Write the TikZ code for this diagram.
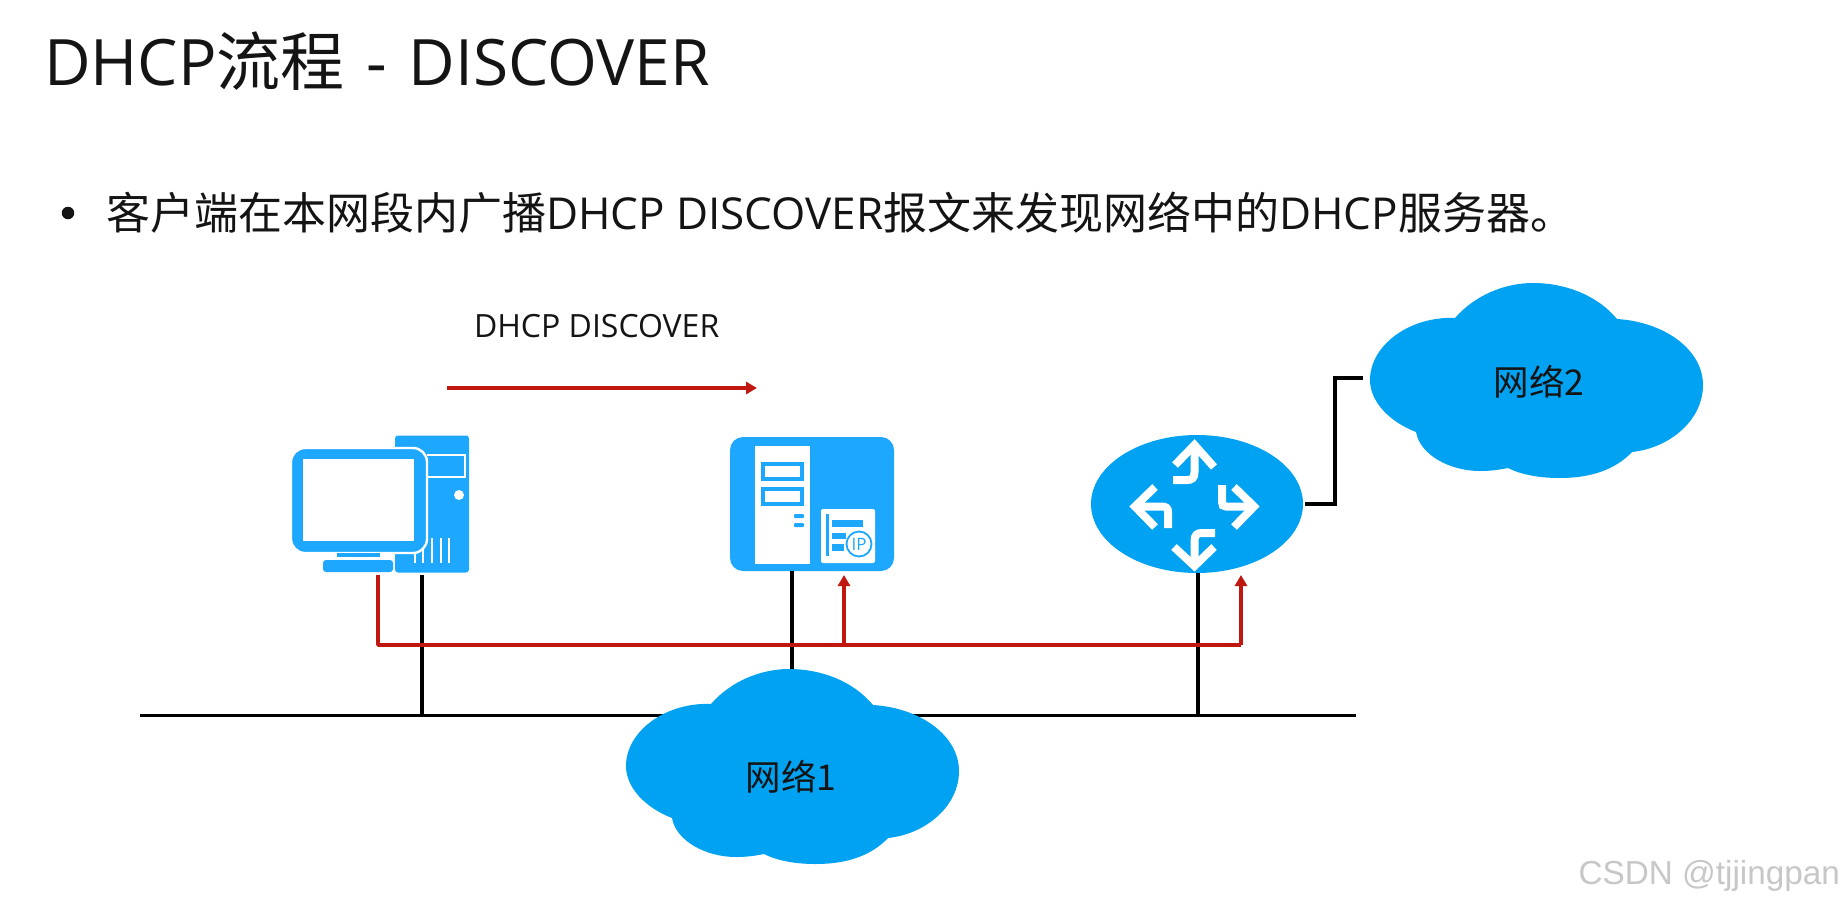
\documentclass[tikz,border=0pt]{standalone}
\usepackage{fontspec}
\setmainfont{Open Sans}
\newfontfamily\cjk{Noto Sans CJK SC}
\newfontfamily\markfont{Liberation Sans}
\usetikzlibrary{shapes.geometric,arrows.meta}
\definecolor{bluea}{HTML}{00A2F1}
\definecolor{blueb}{HTML}{1DA7FF}
\definecolor{redline}{HTML}{C01810}
\definecolor{inkc}{HTML}{141414}
\newcommand{\cn}[1]{{\cjk #1}}
\tikzset{
  txt/.style={inner sep=0pt,outer sep=0pt,text=inkc},
  wire/.style={draw=black,line width=3.8pt},
  redwire/.style={draw=redline,line width=3.6pt},
  redarrow/.style={redwire,-{Triangle[length=11pt,width=12pt]}},
  whitelines/.style={draw=white,line width=8pt,line join=miter},
  cloudshape/.style={fill=bluea},
}
\newcommand{\cloudpath}{
  (1370,380) .. controls (1370,345) and (1410,316) .. (1455,318)
  .. controls (1475,295) and (1505,283) .. (1533,283)
  .. controls (1565,283) and (1597,295) .. (1617,319)
  .. controls (1665,322) and (1703,350) .. (1703,385)
  .. controls (1703,420) and (1670,448) .. (1632,452)
  .. controls (1615,470) and (1590,478) .. (1560,478)
  .. controls (1540,478) and (1522,475) .. (1508,468)
  .. controls (1498,470) and (1490,471) .. (1480,471)
  .. controls (1450,471) and (1420,455) .. (1416,432)
  .. controls (1390,422) and (1370,402) .. (1370,380) -- cycle
}
\begin{document}
\begin{tikzpicture}[x=1pt,y=-1pt]
\useasboundingbox (0,0) rectangle (1844,903);
\fill[white] (0,0) rectangle (1844,903);

% titles
\node[txt,anchor=base west] (title) at (44,85) {\fontsize{64}{70}\selectfont DHCP\cn{流程}\hspace{0.08em} - \hspace{0.08em}DISCOVER};
\node[circle,fill=inkc,inner sep=0pt,minimum size=12.5pt] (bullet) at (68,213) {};
\node[txt,anchor=base west] (line) at (106,229) {\fontsize{44}{50}\selectfont \cn{客户端在本网段内广播}DHCP DISCOVER\cn{报文来发现网络中的}DHCP\cn{服务器。}};
\node[txt,anchor=base west] (lbl) at (474,337) {\fontsize{32}{36}\selectfont DHCP DISCOVER};

% anchors
\coordinate (busL) at (140,715.5);
\coordinate (busR) at (1356,715.5);
\coordinate (arrL) at (447,388);
\coordinate (arrR) at (757,388);
\coordinate (pcB) at (422,575);
\coordinate (pcR) at (378,575);
\coordinate (redS) at (844,645);
\coordinate (srvR) at (844,575);
\coordinate (redE) at (1241,645);
\coordinate (rtrR) at (1241,575);
\coordinate (redW) at (378,645);
\coordinate (elbow1) at (1335,504);
\coordinate (elbow2) at (1335,378);
\coordinate (cloudIn) at (1363,378);
\coordinate (pcBus) at (422,715.5);
\coordinate (srvBus) at (792,715.5);
\coordinate (rtrBus) at (1198,715.5);

% connectors
\draw[wire] (busL) -- (busR);
\draw[wire] (pcB) -- (pcBus);

% router
\node[ellipse,fill=bluea,inner sep=0pt,outer sep=0pt,minimum width=212pt,minimum height=138pt] (router) at (1197,504) {};
\draw[wire] (rtrBus |- router.south) -- (rtrBus);
\draw[wire] (1305,504) -- (elbow1) -- (elbow2) -- (cloudIn);
\draw[whitelines] (1175,465) -- (1194.5,445) -- (1214,467);
\draw[whitelines] (1194.5,445) -- (1194.5,472) .. controls (1194.5,478) and (1192,480) .. (1187,480) -- (1173,480);
\draw[whitelines] (1234,487) -- (1254,506.5) -- (1234,527);
\draw[whitelines] (1254,506.5) -- (1226,506.5) .. controls (1223,506.5) and (1222,505) .. (1222,502) -- (1222,485);
\draw[whitelines] (1155,487) -- (1135,506.5) -- (1155,527);
\draw[whitelines] (1135,506.5) -- (1162,506.5) .. controls (1166,506.5) and (1168,508) .. (1168,512) -- (1168,528);
\draw[whitelines] (1174,547) -- (1194.5,566) -- (1214,547);
\draw[whitelines] (1194.5,566) -- (1194.5,541) .. controls (1194.5,535) and (1197,533) .. (1202,533) -- (1215,533);

% server
\node[rectangle,rounded corners=13pt,fill=blueb,inner sep=0pt,outer sep=0pt,minimum width=164pt,minimum height=134pt] (server) at (812,504) {};
\draw[wire] (server.south -| srvBus) -- (srvBus);
\fill[white] (755,446) rectangle (810,564);
\draw[blueb,line width=3.6pt] (763,464) rectangle (802,479);
\draw[blueb,line width=3.6pt] (763,489) rectangle (802,504);
\fill[blueb,rounded corners=1pt] (794,514) rectangle (804,518);
\fill[blueb,rounded corners=1pt] (794,523) rectangle (804,527);
\fill[white,rounded corners=2pt] (821,509) rectangle (875,563);
\fill[blueb] (826,514) rectangle (828.5,556);
\fill[blueb] (832,520) rectangle (863,527);
\fill[blueb] (832,533) rectangle (846,539);
\fill[blueb] (832,544) rectangle (844,551);
\node[circle,draw=blueb,line width=1.8pt,fill=white,inner sep=0pt,minimum size=25pt,text=blueb] (ip) at (859,544) {\fontsize{17}{17}\selectfont IP};

% computer
\node[rectangle,rounded corners=3pt,fill=blueb,inner sep=0pt,outer sep=0pt,minimum width=74pt,minimum height=137pt] (tower) at (432,504) {};
\draw[white,line width=2.4pt] (427,455) -- (465,455) -- (465,477) -- (427,477);
\fill[white] (459,495) circle (5);
\foreach \gx in {415,423,432,441,449} \fill[white] (\gx-1.2,538) rectangle (\gx+1.2,563);
\node[rectangle,rounded corners=14pt,draw=white,line width=2.4pt,fill=blueb,inner sep=0pt,outer sep=0pt,minimum width=136pt,minimum height=105pt] (monitor) at (359,500.5) {};
\fill[white] (303,459) rectangle (414,541);
\fill[blueb] (337,553) rectangle (380,557);
\fill[blueb,rounded corners=3pt] (323,560) rectangle (393,572);

% red flow
\draw[redarrow] (arrL) -- (arrR);
\draw[redwire,line join=round] (pcR) -- (redW) -- (redE);
\draw[redarrow] (redE) -- (rtrR);
\draw[redarrow] (redS) -- (srvR);

% clouds
\fill[cloudshape] \cloudpath;
\node[txt,anchor=center] (net2) at (1539,382) {\fontsize{35.5}{42}\selectfont \cn{网络2}};
\begin{scope}[shift={(-744,386)}]
\fill[cloudshape] \cloudpath;
\node[txt,anchor=center] (net1) at (1535,391) {\fontsize{35.5}{42}\selectfont \cn{网络1}};
\end{scope}

% watermark
\node[txt,anchor=base east,text=black!22] (mark) at (1840,884) {\fontsize{33.3}{40}\markfont CSDN @tjjingpan};
\end{tikzpicture}
\end{document}
